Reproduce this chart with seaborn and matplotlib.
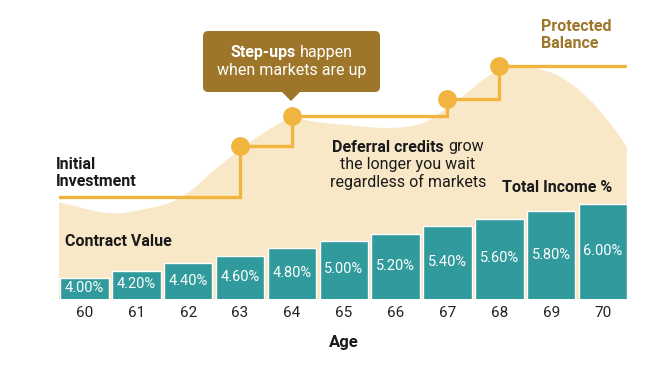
import seaborn as sns
import matplotlib.pyplot as plt
import numpy as np
from matplotlib.patches import FancyBboxPatch, Polygon, PathPatch
from matplotlib.path import Path

# Total income % by age (bars)
ages = [60, 61, 62, 63, 64, 65, 66, 67, 68, 69, 70]
income_pct = [4.0, 4.2, 4.4, 4.6, 4.8, 5.0, 5.2, 5.4, 5.6, 5.8, 6.0]

# Contract value (background area), index units
contract_age = [59.49, 60.43, 61.07, 61.84, 62.67, 63.25, 63.77, 64.02, 64.48,
                65.06, 65.89, 66.53, 66.99, 67.38, 67.76, 68.15, 68.53, 69.11,
                69.69, 70.19, 70.46]
contract_val = [95, 84, 87, 99, 134, 157, 174, 179, 175,
                172, 169, 174, 189, 204, 220, 229, 230, 222,
                200, 170, 150]

# Protected balance (step line) and step-up points
balance_age = [59.49, 63, 64, 67, 68, 70.42]
balance_val = [100, 151, 181, 198, 231, 231]
stepup_age = [63, 64, 67, 68]
stepup_val = [151, 181, 198, 231]

teal = '#319A9C'
beige = '#F9E8C8'
gold = '#F0B43F'
brown = '#9E7629'
ink = '#1a1a1a'

sns.set_style('white')
plt.rcParams['font.family'] = ['Roboto', 'DejaVu Sans']

W, H = 654, 380
fig = plt.figure(figsize=(W / 100, H / 100), dpi=100)
# axes from pixel x 58.6..628.9, y 0..299
ax = fig.add_axes([58.6 / W, 1 - 299 / H, (628.9 - 58.6) / W, 299 / H])
ax2 = ax.twinx()
ax.set_zorder(ax2.get_zorder() + 1)
ax.patch.set_visible(False)

x0 = 60
base = -2


def smooth_area(xs, ys, bottom):
    # draw the area outline as a smooth curve through the read points
    pts = np.column_stack([xs, ys])
    ext = np.vstack([pts[0], pts, pts[-1]])
    verts = [tuple(pts[0])]
    codes = [Path.MOVETO]
    for i in range(1, len(ext) - 2):
        p0, p1, p2, p3 = ext[i - 1], ext[i], ext[i + 1], ext[i + 2]
        verts += [tuple(p1 + (p2 - p0) / 6), tuple(p2 - (p3 - p1) / 6), tuple(p2)]
        codes += [Path.CURVE4] * 3
    verts += [(xs[-1], bottom), (xs[0], bottom), (0, 0)]
    codes += [Path.LINETO, Path.LINETO, Path.CLOSEPOLY]
    return Path(verts, codes)


# background area + protected balance line
ax2.add_patch(PathPatch(smooth_area(np.array(contract_age) - x0, contract_val, base),
                        fc=beige, ec='none', lw=0))
ax2.plot(np.array(balance_age) - x0, balance_val, drawstyle='steps-post',
         color=gold, lw=2.4, solid_joinstyle='miter')
ax2.plot(np.array(stepup_age) - x0, stepup_val, 'o', color=gold, ms=12.5)
ax2.set_ylim(base, 297)
ax2.set_axis_off()

# bars
sns.barplot(x=ages, y=income_pct, color=teal, saturation=1, width=0.935,
            ax=ax, zorder=3)
lo, hi = 3.432, 11.513
ax.set_ylim(lo, hi)
ax.set_xlim(-0.5, 10.5)
for i, v in enumerate(income_pct):
    ax.text(i, (lo + 0.03 + v) / 2, f'{v:.2f}%', ha='center', va='center',
            color='white', fontsize=10.5, zorder=4)

ax.set_yticks([])
ax.tick_params(axis='x', length=0, pad=5, labelsize=11, labelcolor='#222222')
ax.set_xlabel('Age', fontsize=12, fontweight='bold', color=ink, labelpad=11)
for ax_ in (ax, ax2):
    for s in ax_.spines.values():
        s.set_visible(False)


def fx(px):
    return px / W


def fy(py):
    return 1 - py / H


renderer = fig.canvas.get_renderer()


def rich_line(cx_px, cy_px, parts, color, size):
    # a centred line made of bold / regular pieces
    gap = 0.26 * size * 100 / 72
    texts = [fig.text(0, fy(cy_px), s, fontweight=w, color=color,
                      fontsize=size, va='center', ha='left', zorder=10)
             for s, w in parts]
    widths = [t.get_window_extent(renderer).width for t in texts]
    total = sum(widths) + gap * (len(texts) - 1)
    x = cx_px - total / 2
    for t, w in zip(texts, widths):
        t.set_x(fx(x))
        x += w + gap


# call-out box
box = FancyBboxPatch((fx(203), fy(92)), fx(177), 61 / H,
                     boxstyle='round,pad=0,rounding_size=0.008',
                     transform=fig.transFigure, fc=brown, ec='none',
                     mutation_aspect=W / H, zorder=9)
fig.patches.append(box)
fig.patches.append(Polygon([(fx(281), fy(91)), (fx(301), fy(91)), (fx(291), fy(101))],
                           closed=True, transform=fig.transFigure, fc=brown,
                           ec='none', zorder=9))
rich_line(292, 53, [('Step-ups', 'bold'), ('happen', 'normal')], 'white', 11.5)
rich_line(292, 70, [('when markets are up', 'normal')], 'white', 11.5)

# annotations
fig.text(fx(541), fy(35), 'Protected\nBalance', color=brown, fontsize=11.5,
         fontweight='bold', ha='left', va='center', linespacing=1.18)
fig.text(fx(56), fy(173), 'Initial\nInvestment', color=ink, fontsize=11.5,
         fontweight='bold', ha='left', va='center', linespacing=1.18)
rich_line(408, 147, [('Deferral credits', 'bold'), ('grow', 'normal')], ink, 11.5)
rich_line(408, 164, [('the longer you wait', 'normal')], ink, 11.5)
rich_line(408, 182, [('regardless of markets', 'normal')], ink, 11.5)
fig.text(fx(612), fy(188), 'Total Income %', color=ink, fontsize=11.5,
         fontweight='bold', ha='right', va='center')
fig.text(fx(65), fy(241), 'Contract Value', color=ink, fontsize=11.5,
         fontweight='bold', ha='left', va='center')

fig.savefig('out.png', dpi=100)
